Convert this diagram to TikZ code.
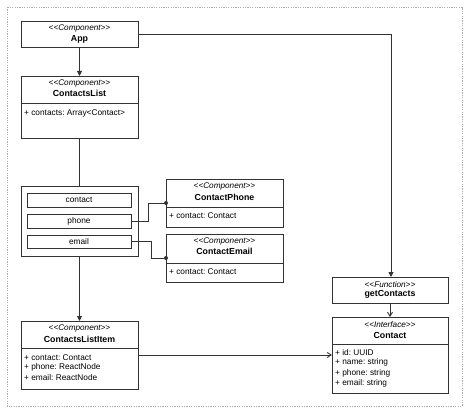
\documentclass[tikz,border=0pt]{standalone}
\usepackage{fontspec}
\setmainfont{Liberation Sans}
\usetikzlibrary{arrows.meta}
\definecolor{linec}{HTML}{333333}
\definecolor{framec}{HTML}{AAAAAA}
\newcommand{\stt}[1]{\textless\kern0pt\textless\kern0pt #1\kern0pt\textgreater\kern0pt\textgreater}
\frenchspacing
\begin{document}
\begin{tikzpicture}[x=1pt,y=-1pt,
  box/.style={draw=linec, line width=0.9pt, fill=white, anchor=north west, inner sep=0, outer sep=0},
  stereo/.style={font=\fontsize{8.2}{9}\selectfont\itshape\frenchspacing, inner sep=0, anchor=center},
  cname/.style={font=\fontsize{8.8}{9}\selectfont\bfseries\frenchspacing, inner sep=0, anchor=center},
  attr/.style={font=\fontsize{8.3}{9}\selectfont\frenchspacing, inner sep=0, anchor=west},
  slot/.style={font=\fontsize{8.3}{9}\selectfont\frenchspacing, inner sep=0, anchor=center},
  conn/.style={draw=linec, line width=0.9pt},
  filledarr/.style={conn, -{Triangle[width=5pt,length=5pt]}},
  openarr/.style={conn, -{Straight Barb[width=5pt,length=4pt]}},
  divider/.style={draw=linec, line width=0.8pt}
]
\useasboundingbox (0,0) rectangle (474,417);
\draw[framec, line width=0.8pt, dash pattern=on 1.2pt off 1.2pt] (7,7) rectangle (462,406);

% App
\node[box, minimum width=117pt, minimum height=26pt] (app) at (21,21) {};
\node[stereo] (appS) at (79.5,28.5) {\stt{Component}};
\node[cname] (appN) at (79.5,39) {App};

% ContactsList
\node[box, minimum width=117pt, minimum height=62pt] (cl) at (21,76) {};
\draw[divider] (21,103) -- (138,103);
\node[stereo] (clS) at (79.5,83) {\stt{Component}};
\node[cname] (clN) at (79.5,93.5) {ContactsList};
\node[attr] (clA) at (24,113) {+ contacts: Array\textless Contact\textgreater};

% container
\node[box, minimum width=117pt, minimum height=70pt] (cont) at (21,186) {};
\node[box, minimum width=104pt, minimum height=14pt] (contact) at (27,193) {};
\node[slot] at (contact.center) {contact};
\node[box, minimum width=104pt, minimum height=14pt] (phone) at (27,214) {};
\node[slot] at (phone.center) {phone};
\node[box, minimum width=104pt, minimum height=13pt] (email) at (27,235) {};
\node[slot] at (email.center) {email};

% ContactsListItem
\node[box, minimum width=117pt, minimum height=68pt] (cli) at (21,321) {};
\draw[divider] (21,348) -- (138,348);
\node[stereo] (cliS) at (79.5,328.5) {\stt{Component}};
\node[cname] (cliN) at (79.5,339) {ContactsListItem};
\node[attr] at (24,357.5) {+ contact: Contact};
\node[attr] at (24,367.5) {+ phone: ReactNode};
\node[attr] at (24,377.5) {+ email: ReactNode};

% ContactPhone
\node[box, minimum width=117pt, minimum height=48pt] (cp) at (166,179) {};
\draw[divider] (166,207) -- (283,207);
\node[stereo] at (224.5,186) {\stt{Component}};
\node[cname] at (224.5,197) {ContactPhone};
\node[attr] at (169,216) {+ contact: Contact};

% ContactEmail
\node[box, minimum width=117pt, minimum height=48pt] (ce) at (166,234) {};
\draw[divider] (166,263) -- (283,263);
\node[stereo] at (224.5,241) {\stt{Component}};
\node[cname] at (224.5,251.5) {ContactEmail};
\node[attr] at (169,271.5) {+ contact: Contact};

% getContacts
\node[box, minimum width=116pt, minimum height=26pt] (gc) at (332,277) {};
\node[stereo] at (390,284.5) {\stt{Function}};
\node[cname] at (390,294) {getContacts};

% Contact
\node[box, minimum width=116pt, minimum height=76pt] (ct) at (332,317) {};
\draw[divider] (332,344) -- (448,344);
\node[stereo] at (390,325) {\stt{Interface}};
\node[cname] at (390,335.5) {Contact};
\node[attr] at (335,352.5) {+ id: UUID};
\node[attr] at (335,362.8) {+ name: string};
\node[attr] at (335,373.2) {+ phone: string};
\node[attr] at (335,383.5) {+ email: string};

% connectors
\draw[filledarr] (app.south) -- (cl.north);
\draw[conn] (cl.south) -- (cont.north);
\draw[filledarr] (cont.south) -- (cli.north);
\draw[conn] (phone.east) -- ++(17.5,0) |- (cp.west);
\fill[linec] (cp.west) circle (2pt);
\draw[conn] (email.east) -- ++(20.5,0) |- (ce.west);
\fill[linec] (ce.west) circle (2pt);
\coordinate (bend) at (391,34);
\draw[filledarr] (app.east) -- (bend) -- (bend |- gc.north);
\draw[openarr] (gc.south) -- (ct.north);
\draw[openarr] (cli.east) -- (ct.west);
\end{tikzpicture}
\end{document}
